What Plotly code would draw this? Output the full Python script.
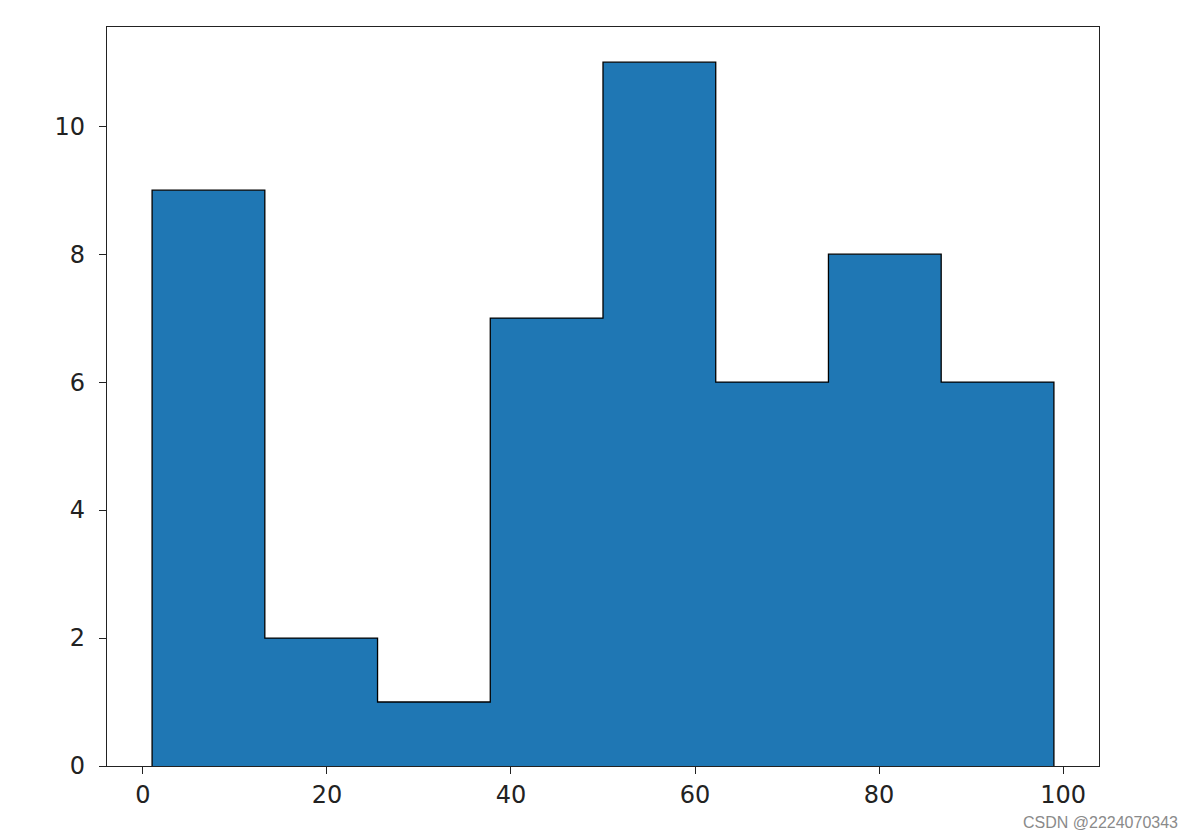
import plotly.graph_objects as go

# histogram: 8 bins between 1 and 99
bin_edges = [1.0, 13.25, 25.5, 37.75, 50.0, 62.25, 74.5, 86.75, 99.0]
counts = [9, 2, 1, 7, 11, 6, 8, 6]

x_ticks = [0, 20, 40, 60, 80, 100]
y_ticks = [0, 2, 4, 6, 8, 10]

# stepfilled outline built from the edges and counts
xs, ys = [bin_edges[0]], [0]
for i, c in enumerate(counts):
    xs += [bin_edges[i], bin_edges[i + 1]]
    ys += [c, c]
xs.append(bin_edges[-1])
ys.append(0)

fig = go.Figure(
    go.Scatter(
        x=xs,
        y=ys,
        mode="lines",
        fill="toself",
        fillcolor="#1f77b4",
        line={"color": "black", "width": 1.3},
        showlegend=False,
        hoverinfo="skip",
    )
)

span = bin_edges[-1] - bin_edges[0]
# page body has an 8px margin, so the figure is a bit smaller than the window
fig.update_layout(
    width=1187,
    height=830,
    paper_bgcolor="white",
    plot_bgcolor="white",
    margin={"l": 99, "r": 96, "t": 19, "b": 72},
    font={"family": "DejaVu Sans", "size": 24, "color": "#222222"},
)
axis_style = dict(
    showgrid=False,
    zeroline=False,
    showline=True,
    linecolor="#222222",
    linewidth=1.3,
    mirror=True,
    ticks="outside",
    ticklen=7,
    tickwidth=1.3,
    tickcolor="#222222",
)
fig.update_xaxes(
    range=[bin_edges[0] - 0.05 * span, bin_edges[-1] + 0.05 * span],
    tickvals=x_ticks,
    **axis_style,
)
fig.update_yaxes(
    range=[0, max(counts) * 1.05],
    tickvals=y_ticks,
    ticklabelstandoff=9,
    **axis_style,
)

fig.add_annotation(
    text="CSDN @2224070343",
    xref="paper", yref="paper",
    x=1.0817, y=-0.077,
    xanchor="right", yanchor="middle",
    showarrow=False,
    font={"family": "Liberation Sans, Arial", "size": 16, "color": "#8a8a8a"},
)

fig.write_html("out.html")
